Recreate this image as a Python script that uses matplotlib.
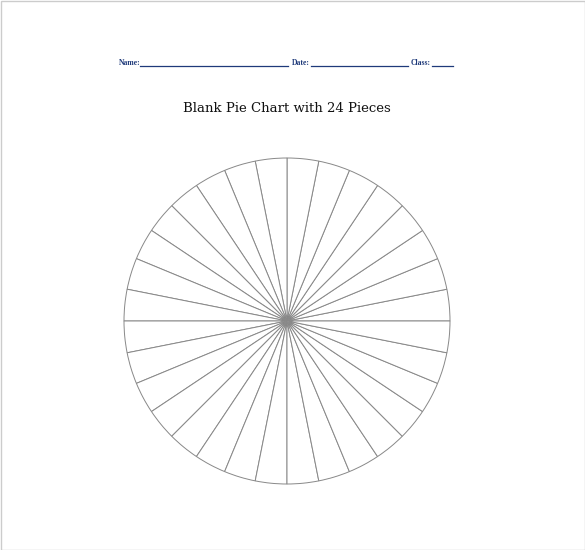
import matplotlib
matplotlib.use("Agg")
import matplotlib.pyplot as plt

title = "Blank Pie Chart with 24 Pieces"
n_pieces = 32  # the drawing actually has 32 equal slices
sizes = [1] * n_pieces
fields = ["Name:", "Date:", "Class:"]
field_x = [119, 292, 411]
line_spans = [(140, 288), (311, 408), (432, 453)]

fig = plt.figure(figsize=(5.85, 5.5), dpi=100)
ax = fig.add_axes([0, 0, 1, 1])
ax.set_aspect("equal")

# page border
ax.add_patch(plt.Rectangle((0.5, 0.5), 584, 549, fill=False, ec="#cccccc", lw=1))

for lab, x, (x0, x1) in zip(fields, field_x, line_spans):
    ax.text(x, 63, lab, fontsize=5.5, family="Liberation Serif", color="#1f3a7a",
            va="center", ha="left", weight="bold")
    ax.plot([x0, x1], [66, 66], color="#1f3a7a", lw=0.9)

ax.text(287, 108, title, fontsize=9.5, family="DejaVu Serif", ha="center", va="center",
        color="#111111")

ax.pie(sizes, center=(287, 321), radius=163, startangle=0, counterclock=False,
       colors=["white"] * n_pieces, frame=True,
       wedgeprops=dict(edgecolor="#888888", linewidth=0.7))
ax.set_xlim(0, 585)
ax.set_ylim(550, 0)
ax.axis("off")

fig.savefig("out.png", dpi=100)
